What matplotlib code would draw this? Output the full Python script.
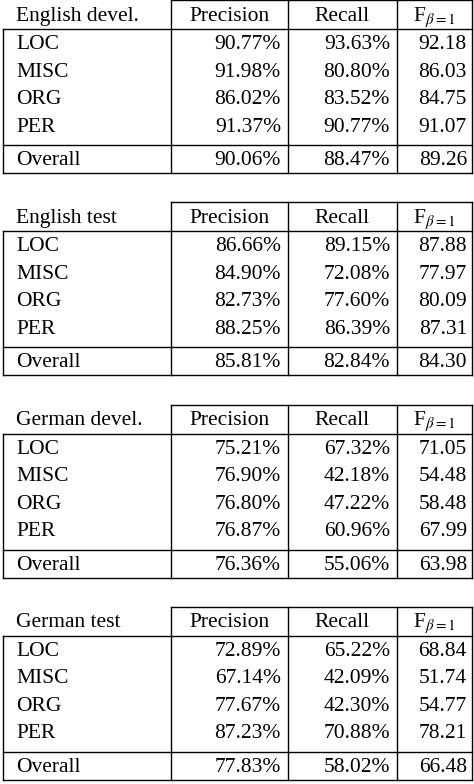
import matplotlib
matplotlib.use("Agg")
import matplotlib.pyplot as plt

plt.rcParams['font.family'] = ['Liberation Serif', 'DejaVu Serif']
plt.rcParams['mathtext.fontset'] = 'stix'

titles = ["English devel.", "English test", "German devel.", "German test"]
rows = ["LOC", "MISC", "ORG", "PER", "Overall"]
precision = [[90.77, 91.98, 86.02, 91.37, 90.06],
             [86.66, 84.90, 82.73, 88.25, 85.81],
             [75.21, 76.90, 76.80, 76.87, 76.36],
             [72.89, 67.14, 77.67, 87.23, 77.83]]
recall = [[93.63, 80.80, 83.52, 90.77, 88.47],
          [89.15, 72.08, 77.60, 86.39, 82.84],
          [67.32, 42.18, 47.22, 60.96, 55.06],
          [65.22, 42.09, 42.30, 70.88, 58.02]]
fscore = [[92.18, 86.03, 84.75, 91.07, 89.26],
          [87.88, 77.97, 80.09, 87.31, 84.30],
          [71.05, 54.48, 58.48, 67.99, 63.98],
          [68.84, 51.74, 54.77, 78.21, 66.48]]
headers = ["Precision", "Recall", r"F$_{\beta=1}$"]

fig = plt.figure(figsize=(4.74, 7.84), dpi=100)
ax = fig.add_axes([0, 0, 1, 1])
ax.set_xlim(0, 474); ax.set_ylim(784, 0); ax.axis('off')

xs = [3, 171, 288, 397, 472]
fs = 15.5
lw = 1.0
off = 6  # baseline offset from row center
for t in range(4):
    y0 = 0 + t * 202.3
    top = y0
    hb = y0 + 29
    ry = [hb + 14 + 27.5 * i for i in range(4)]
    sep = y0 + 145
    ov = sep + 14
    bot = y0 + 173
    kw = dict(color='black', lw=lw)
    ax.plot([xs[1], xs[4]], [top, top], **kw)
    ax.plot([xs[0], xs[4]], [hb, hb], **kw)
    ax.plot([xs[0], xs[4]], [sep, sep], **kw)
    ax.plot([xs[0], xs[4]], [bot, bot], **kw)
    for j, x in enumerate(xs):
        ys = top if j > 0 else hb
        ax.plot([x, x], [ys, bot], **kw)
    hc = (top + hb) / 2
    ax.text(16, hc + off, titles[t], fontsize=fs, va='baseline', ha='left')
    for k, h in enumerate(headers):
        ax.text((xs[k + 1] + xs[k + 2]) / 2, hc + off, h, fontsize=fs, va='baseline', ha='center')
    ylist = ry + [ov]
    for i, r in enumerate(rows):
        y = ylist[i] + off
        ax.text(16, y, r, fontsize=fs, va='baseline', ha='left')
        ax.text(281, y, f"{precision[t][i]:.2f}%", fontsize=fs, va='baseline', ha='right')
        ax.text(390, y, f"{recall[t][i]:.2f}%", fontsize=fs, va='baseline', ha='right')
        ax.text(467, y, f"{fscore[t][i]:.2f}", fontsize=fs, va='baseline', ha='right')

fig.savefig("out.png", dpi=100)
